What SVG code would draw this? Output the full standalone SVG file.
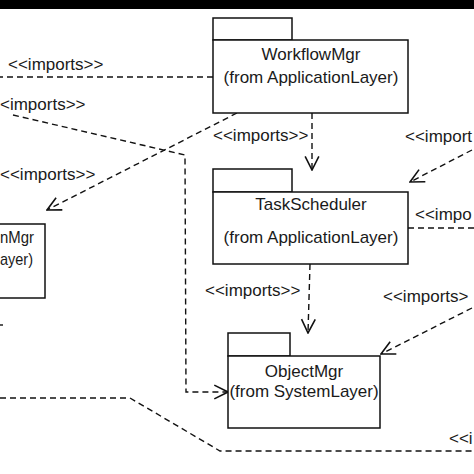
<svg xmlns="http://www.w3.org/2000/svg" width="474" height="474" viewBox="0 0 474 474">
<style>
.box{fill:#fff;stroke:#111;stroke-width:1.5}
.t{font-family:"Liberation Sans",Arial,sans-serif;font-size:17px;fill:#1a1a1a}
.c{text-anchor:middle}
.d{fill:none;stroke:#111;stroke-width:1.4;stroke-dasharray:6 4}
</style>
<defs>
<marker id="oa" markerUnits="userSpaceOnUse" markerWidth="16" markerHeight="16" viewBox="0 0 14 14" refX="13" refY="7" orient="auto">
<path d="M1,1 L13,7 L1,13" fill="none" stroke="#111" stroke-width="1.4"/>
</marker>
</defs>
<rect width="474" height="474" fill="#fff"/>
<rect x="0" y="0" width="474" height="9" fill="#000"/>

<g id="connectors">
<line class="d" x1="213" y1="77" x2="0" y2="77"/>
<polyline class="d" points="13,115 185,155 186,392 228,392" marker-end="url(#oa)"/>
<line class="d" x1="237" y1="113" x2="47" y2="210" marker-end="url(#oa)"/>
<line class="d" x1="312" y1="113" x2="312" y2="170" marker-end="url(#oa)"/>
<line class="d" x1="472" y1="150" x2="410" y2="182" marker-end="url(#oa)"/>
<line class="d" x1="408" y1="228" x2="474" y2="228"/>
<line class="d" x1="310" y1="264" x2="308" y2="333" marker-end="url(#oa)"/>
<line class="d" x1="472" y1="308" x2="381" y2="354" marker-end="url(#oa)"/>
<polyline class="d" points="0,398 130,398 220,451 474,451"/>
<line x1="0" y1="325" x2="3" y2="325" stroke="#111" stroke-width="1.4"/>
<text class="t" x="8" y="70">&lt;&lt;imports&gt;&gt;</text>
<text class="t" x="0" y="110">&lt;imports&gt;&gt;</text>
<text class="t" x="0" y="180">&lt;&lt;imports&gt;&gt;</text>
<text class="t" x="213" y="141">&lt;&lt;imports&gt;&gt;</text>
<text class="t" x="405" y="142">&lt;&lt;import</text>
<text class="t" x="415" y="220">&lt;&lt;impo</text>
<text class="t" x="205" y="296">&lt;&lt;imports&gt;&gt;</text>
<text class="t" x="383" y="302">&lt;&lt;imports&gt;</text>
<text class="t" x="449" y="444">&lt;&lt;i</text>
</g>

<g id="WorkflowMgr">
<rect class="box" x="213" y="18" width="79" height="22"/>
<rect class="box" x="213" y="40" width="195" height="73"/>
<text class="t c" x="311" y="60">WorkflowMgr</text>
<text class="t c" x="311" y="83">(from ApplicationLayer)</text>
</g>

<g id="TaskScheduler">
<rect class="box" x="213" y="169" width="79" height="23"/>
<rect class="box" x="213" y="192" width="195" height="72"/>
<text class="t c" x="311" y="210">TaskScheduler</text>
<text class="t c" x="311" y="243">(from ApplicationLayer)</text>
</g>

<g id="ObjectMgr">
<rect class="box" x="228" y="333" width="62" height="23"/>
<rect class="box" x="228" y="356" width="152" height="72"/>
<text class="t c" x="304" y="377">ObjectMgr</text>
<text class="t c" x="304" y="397">(from SystemLayer)</text>
</g>

<g id="LeftMgr">
<rect class="box" x="-60" y="224" width="105" height="74"/>
<text class="t" x="0" y="243" textLength="34" lengthAdjust="spacingAndGlyphs">nMgr</text>
<text class="t" x="0" y="265" textLength="33" lengthAdjust="spacingAndGlyphs">ayer)</text>
</g>
</svg>
